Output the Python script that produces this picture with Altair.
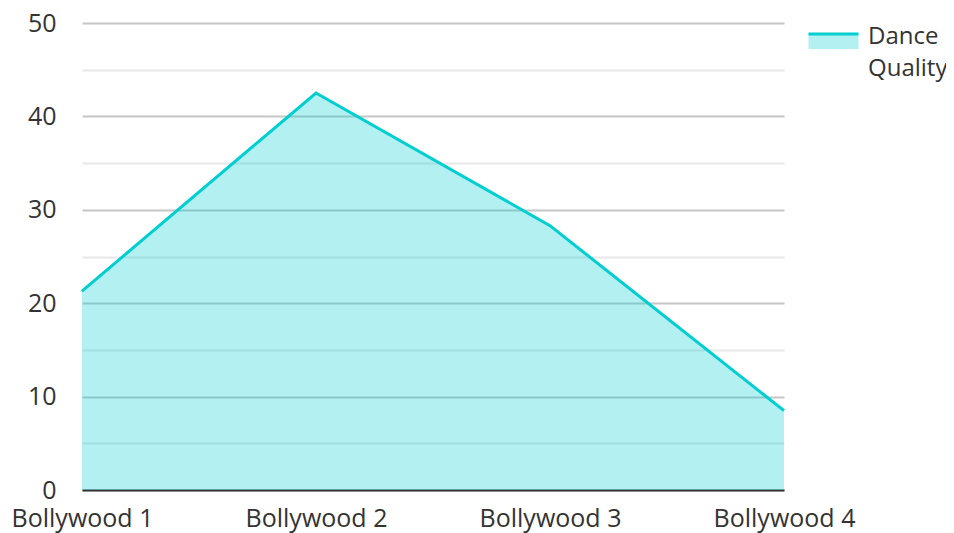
import altair as alt
import pandas as pd

categories = ["Bollywood 1", "Bollywood 2", "Bollywood 3", "Bollywood 4"]
dance_quality = [21.3, 42.5, 28.3, 8.5]
series_name = "Dance Quality"
y_ticks = [0, 5, 10, 15, 20, 25, 30, 35, 40, 45, 50]

df = pd.DataFrame({
    "category": categories,
    "value": dance_quality,
    "series": [series_name] * len(categories),
})

CYAN = "#00CED1"
LIGHT = "#B2F0F1"
FONT = "Open Sans"
TEXT = "#333333"

x = alt.X(
    "category:N",
    sort=categories,
    scale=alt.Scale(type="point", padding=0),
    axis=alt.Axis(title=None, labelAngle=0, ticks=False, grid=False,
                  domainColor="#333333", domainWidth=2,
                  labelFontSize=25, labelColor=TEXT, labelPadding=16,
                  labelFont=FONT),
)
y = alt.Y(
    "value:Q",
    scale=alt.Scale(domain=[0, 50], nice=False, zero=True),
    axis=alt.Axis(title=None, values=y_ticks, ticks=False, domain=False,
                  labelExpr="datum.value % 10 === 0 ? datum.label : ''",
                  gridColor={"condition": {"test": "datum.value % 10 === 0", "value": "#c6c6c6"},
                             "value": "#e8e8e8"},
                  gridWidth=2,
                  labelPadding=26, labelFontSize=25, labelColor=TEXT, labelFont=FONT),
)

base = alt.Chart(df)

area = base.mark_area(color=CYAN, opacity=0.3).encode(x=x, y=y)

line = base.mark_line(strokeWidth=3).encode(
    x=x,
    y=y,
    stroke=alt.Stroke(
        "series:N",
        scale=alt.Scale(range=[CYAN]),
        legend=alt.Legend(
            title=None,
            orient="none",
            legendX=725,
            legendY=-13,
            symbolType="M-1,-0.1 L1,-0.1 L1,0.5 L-1,0.5 Z",
            symbolSize=2500,
            symbolFillColor=LIGHT,
            symbolStrokeWidth=3,
            symbolDash=[50, 90],
            labelExpr="split(datum.label, ' ')",
            labelFontSize=24,
            labelFont=FONT,
            labelColor=TEXT,
            labelLimit=300,
            labelOffset=8,
        ),
    ),
)

chart = alt.layer(area, line).properties(
    width=702,
    height=467,
    autosize=alt.AutoSizeParams(type="none"),
    padding={"left": 74, "top": 15, "right": 162, "bottom": 44},
).configure(
    font=FONT,
    view=alt.ViewConfig(stroke=None),
    style={"guide-label": {"lineHeight": 32}},
)

chart.save("out.html", embed_options={"renderer": "svg", "actions": False})
